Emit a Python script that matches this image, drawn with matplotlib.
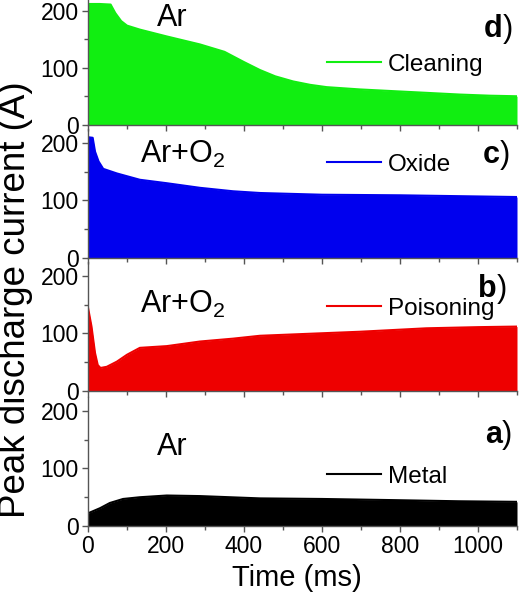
import matplotlib
matplotlib.use("Agg")
from matplotlib import pyplot as plt
from matplotlib.ticker import MultipleLocator

plt.rcParams['font.family'] = ['Liberation Sans', 'DejaVu Sans']
plt.rcParams['mathtext.fontset'] = 'custom'
plt.rcParams['mathtext.rm'] = 'Liberation Sans'

# top envelope of the pulse train (ms, A)
t_metal = [0, 31, 56, 90, 133, 202, 287, 441, 600, 782, 950, 1100]
i_metal = [22, 31, 40, 47, 50, 53, 52, 48, 47, 45, 43, 42]

t_poison = [0, 9, 18, 25, 32, 48, 74, 100, 133, 202, 287, 372, 441, 550, 697, 868, 1000, 1100]
i_poison = [145, 112, 66, 45, 40, 42, 51, 63, 75, 78, 86, 91, 96, 99, 103, 109, 111, 112]

t_oxide = [0, 12, 18, 27, 39, 74, 133, 202, 287, 372, 441, 600, 800, 1000, 1100]
i_oxide = [210, 209, 185, 168, 155, 147, 136, 130, 122, 116, 113, 110, 109, 107, 106]

t_clean = [0, 30, 58, 70, 85, 100, 133, 202, 287, 350, 400, 441, 480, 526, 570, 612, 697, 782, 868, 953, 1030, 1100]
i_clean = [212, 212, 211, 196, 182, 174, 167, 155, 141, 128, 110, 96, 85, 76, 70, 66, 62, 59, 56, 53, 51, 50]

names = ["Metal", "Poisoning", "Oxide", "Cleaning"]
gases = ["Ar", "Ar+O$_2$", "Ar+O$_2$", "Ar"]
letters = ["a", "b", "c", "d"]
colors = ["#000000", "#ee0000", "#0000ee", "#11ee11"]
times = [t_metal, t_poison, t_oxide, t_clean]
currents = [i_metal, i_poison, i_oxide, i_clean]

fig = plt.figure(figsize=(5.2, 5.94), dpi=100)

left = 88/520
width = 429/520
# bottom, height, ymax for each panel (a -> d)
rects = [(0.1145, 0.2178, 225), (0.3418, 0.2178, 225), (0.5657, 0.2178, 225), (0.790, 0.2100, 219)]
# positions of texts in axes coords: gas label (x, y), letter (x, y), legend y
gas_pos = [(0.160, 0.549), (0.121, 0.603), (0.121, 0.734), (0.160, 0.791)]
let_pos = [(0.965, 0.641), (0.953, 0.726), (0.960, 0.734), (0.967, 0.703)]
leg_y = [0.379, 0.634, 0.719, 0.479]

for k in range(4):
    b, h, ymax = rects[k]
    ax = fig.add_axes([left, b, width, h])
    ax.fill_between(times[k], 0, currents[k], color=colors[k], lw=0)
    ax.plot(times[k], currents[k], color=colors[k], lw=1.5, label=names[k])
    ax.set_xlim(0, 1100)
    ax.set_ylim(0, ymax)
    ax.spines['top'].set_visible(False)
    ax.spines['right'].set_visible(False)
    for s in ['left', 'bottom']:
        ax.spines[s].set_color('#555555')
        ax.spines[s].set_linewidth(1.0)
    ax.xaxis.set_major_locator(MultipleLocator(200))
    ax.xaxis.set_minor_locator(MultipleLocator(100))
    ax.yaxis.set_major_locator(MultipleLocator(100))
    ax.yaxis.set_minor_locator(MultipleLocator(50))
    ax.tick_params(which='major', direction='out', length=4.5, width=1, color='#555555', labelsize=16.5, pad=2)
    ax.tick_params(which='minor', direction='out', length=3, width=1, color='#555555')
    if k > 0:
        ax.tick_params(axis='x', labelbottom=False)
    ax.patch.set_alpha(0)

    ax.text(gas_pos[k][0], gas_pos[k][1], gases[k], transform=ax.transAxes,
            fontsize=22, ha='left', va='baseline')
    ax.text(let_pos[k][0], let_pos[k][1], letters[k], transform=ax.transAxes,
            fontsize=22, fontweight='bold', ha='right', va='baseline')
    ax.text(let_pos[k][0], let_pos[k][1], ")", transform=ax.transAxes,
            fontsize=22, ha='left', va='baseline')
    ax.legend(loc='center left', bbox_to_anchor=(0.558, leg_y[k]), frameon=False,
              fontsize=17.5, handlelength=2.2, handletextpad=0.3, borderpad=0, borderaxespad=0)

fig.text(16/520, 0.495, "Peak discharge current (A)", rotation=90, ha='center', va='center', fontsize=26.5)
fig.text(0.571, 0.027, "Time (ms)", ha='center', va='center', fontsize=21)

fig.savefig("out.png", dpi=100)
